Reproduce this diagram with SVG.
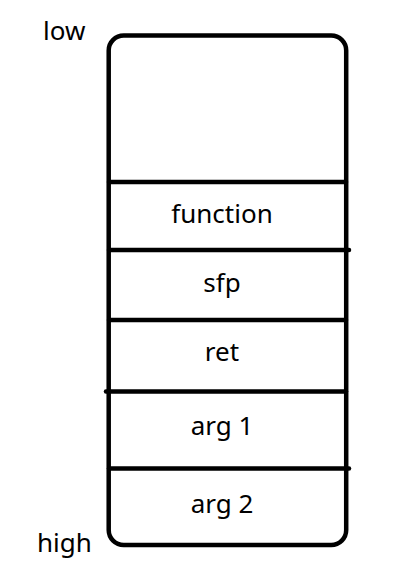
<svg xmlns="http://www.w3.org/2000/svg" width="401" height="566" viewBox="0 0 401 566">
<style>
.t{font-family:"Noto Sans","Open Sans",sans-serif;font-size:26px;fill:#000}
.c{text-anchor:middle}
.ln{stroke:#000;stroke-width:4.5;fill:none;stroke-linecap:round}
</style>
<rect width="401" height="566" fill="#fff"/>
<g id="stack">
<rect x="108.7" y="35.5" width="237.5" height="509.5" rx="15" ry="15" class="ln"/>
</g>
<g id="dividers">
<line x1="109" y1="182" x2="346" y2="182" class="ln"/>
<line x1="109" y1="250" x2="349" y2="250" class="ln"/>
<line x1="109" y1="320" x2="346" y2="320" class="ln"/>
<line x1="106" y1="391.5" x2="346" y2="391.5" class="ln"/>
<line x1="109" y1="468.5" x2="349" y2="468.5" class="ln"/>
</g>
<g id="cell-function"><text x="222" y="223.3" class="t c">function</text></g>
<g id="cell-sfp"><text x="222" y="291.7" class="t c">sfp</text></g>
<g id="cell-ret"><text x="222" y="361" class="t c">ret</text></g>
<g id="cell-arg1"><text x="222" y="435" class="t c">arg 1</text></g>
<g id="cell-arg2"><text x="222" y="513.3" class="t c">arg 2</text></g>
<g id="label-low"><text x="43" y="40" class="t">low</text></g>
<g id="label-high"><text x="37" y="551.7" class="t">high</text></g>
</svg>
